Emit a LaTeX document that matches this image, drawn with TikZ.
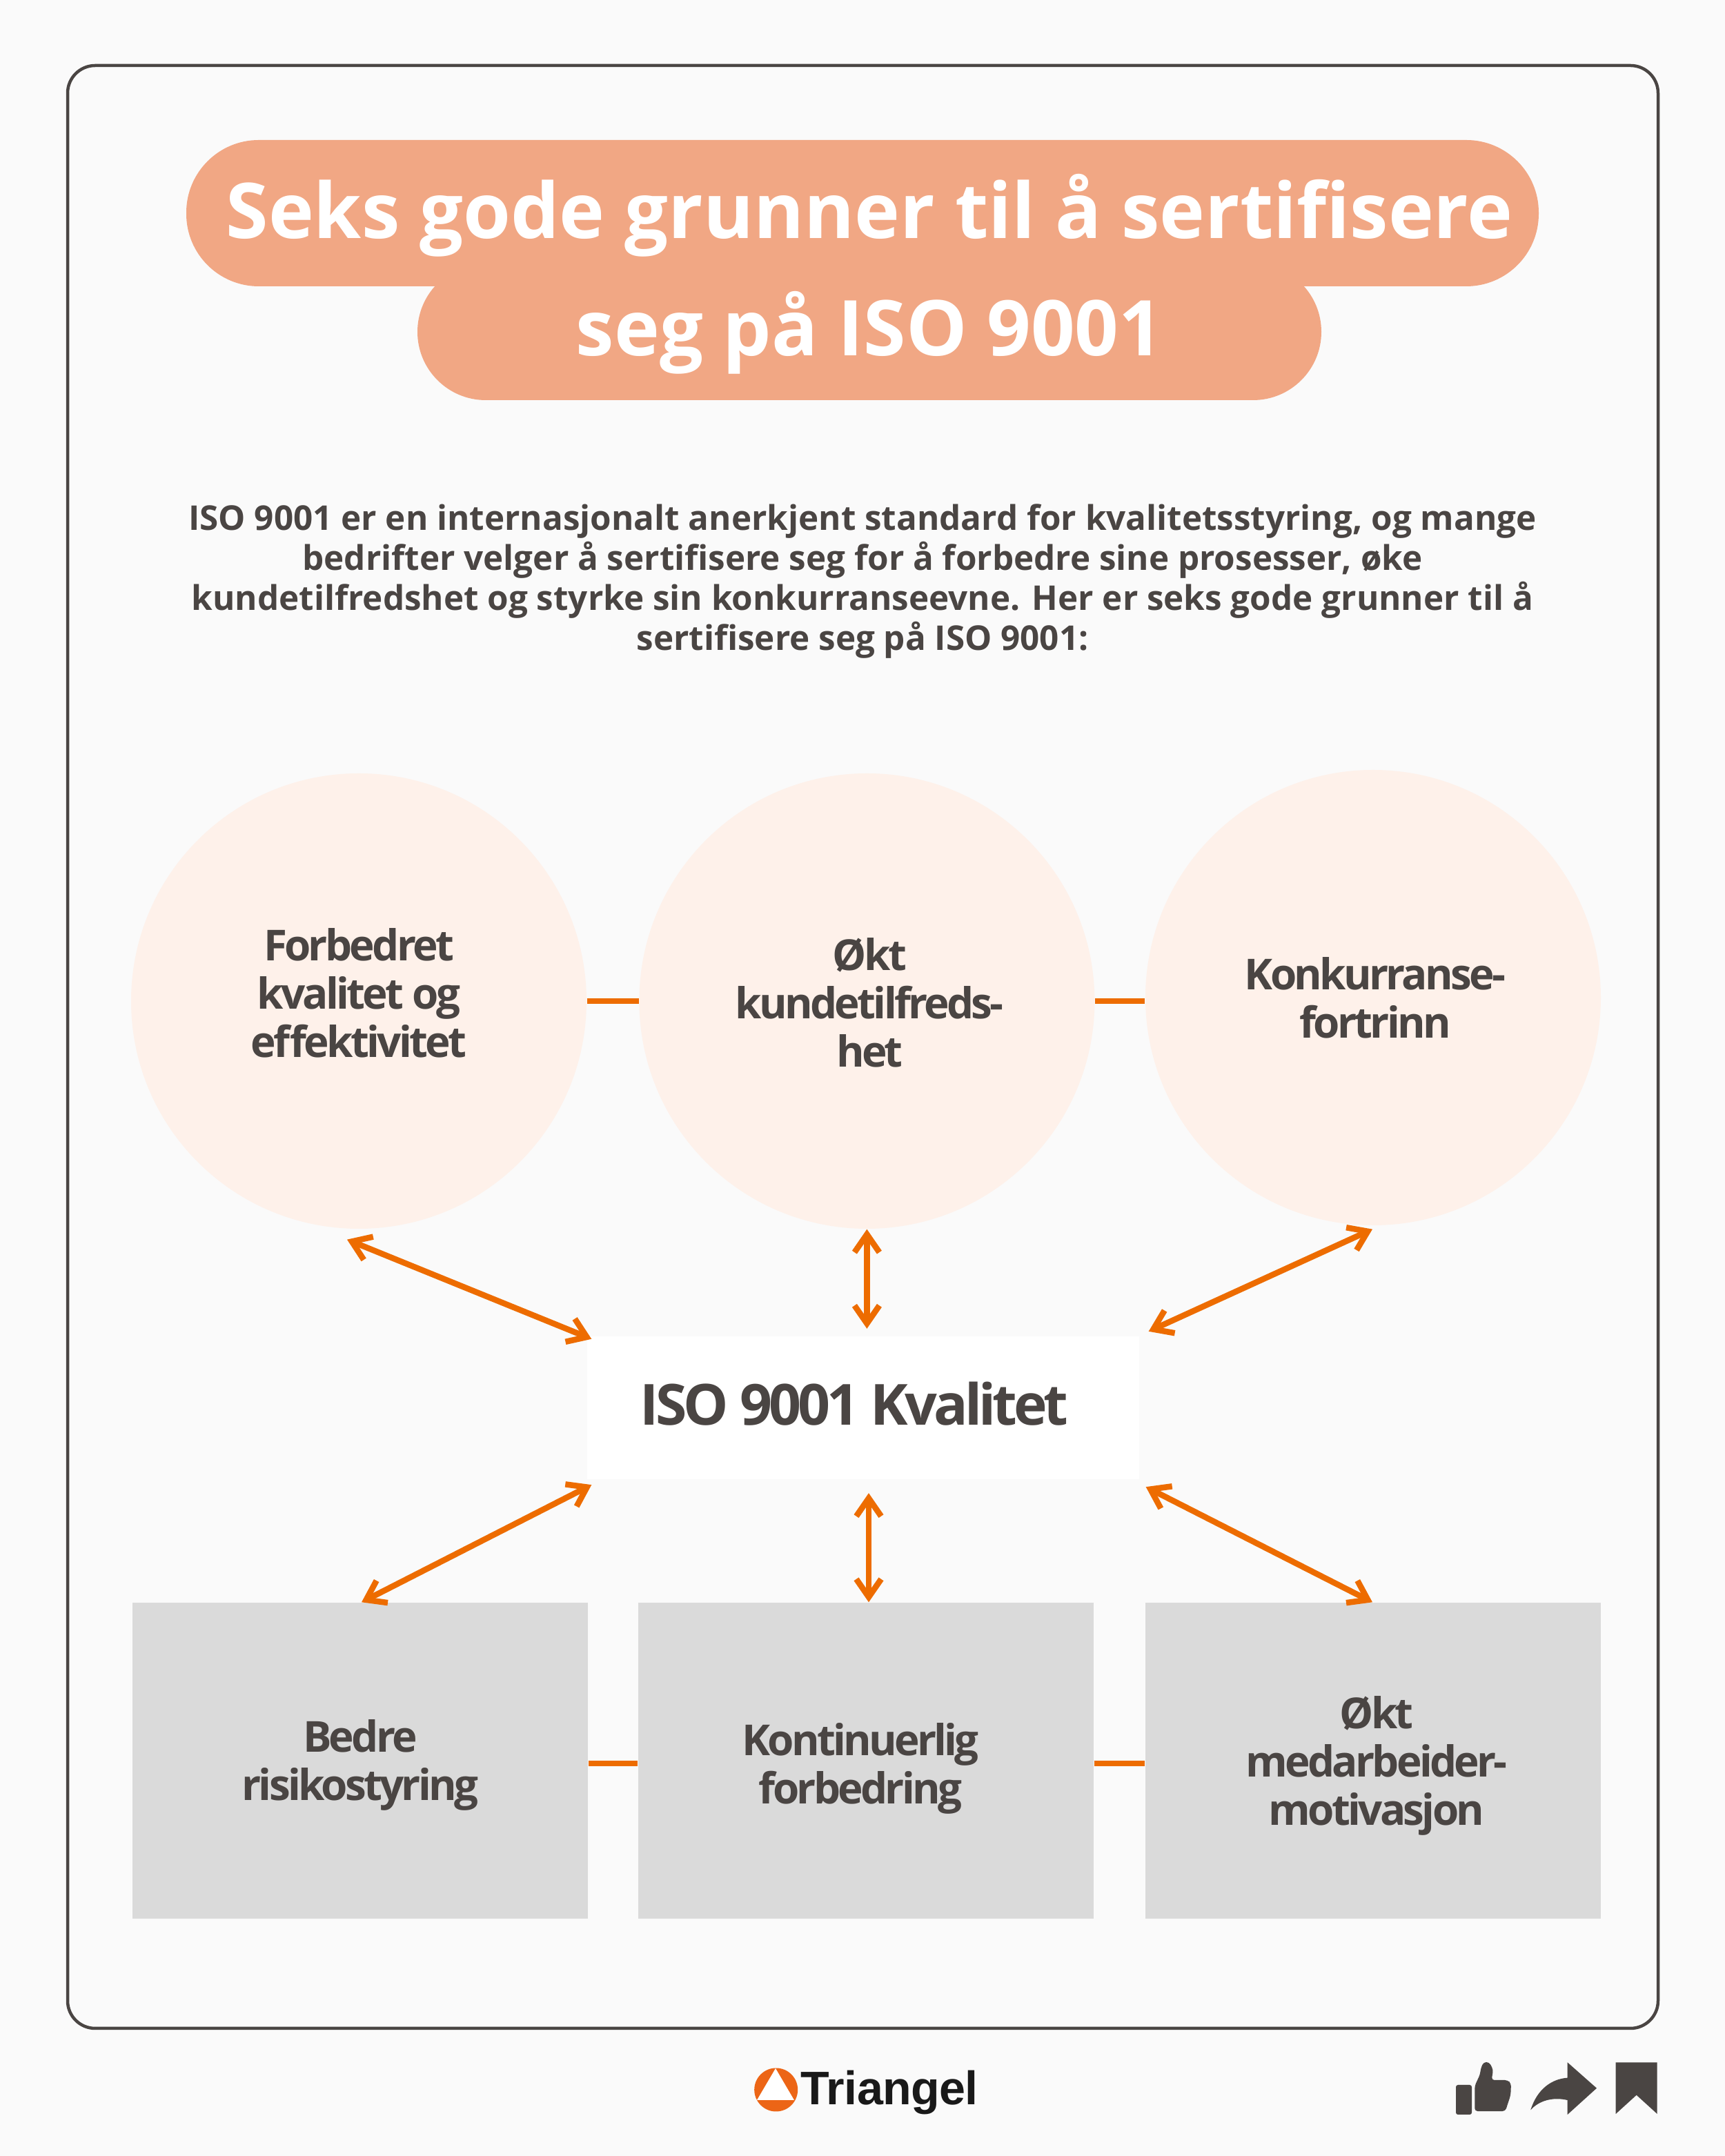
\documentclass[tikz,border=0pt]{standalone}
\usepackage{fontspec}
\setmainfont{Open Sans}
\newfontfamily\tightfont{Open Sans}[LetterSpace=-6]
\newfontfamily\logofont{Liberation Sans}[LetterSpace=-1]
\usepackage{xcolor}
\usetikzlibrary{arrows.meta, positioning}
\definecolor{pagebg}{HTML}{FAFAFA}
\definecolor{ink}{HTML}{4A4543}
\definecolor{peach}{HTML}{F1A784}
\definecolor{blush}{HTML}{FEF1EA}
\definecolor{slab}{HTML}{DADADA}
\definecolor{tangerine}{HTML}{ED6C00}
\definecolor{logoorange}{HTML}{EC6516}

\begin{document}
\begin{tikzpicture}[
        pill/.style={fill=peach, text=white, font=\fontsize{31.7}{36}\selectfont\bfseries, inner sep=0pt, text depth=0.3cm},
        circ/.style={circle, fill=blush, minimum size=6.6cm, inner sep=0pt},
        slabbox/.style={rectangle, fill=slab, minimum width=6.6cm, minimum height=4.58cm, inner sep=0pt},
        txt/.style={font=\fontsize{17.6}{19.9}\selectfont\tightfont\bfseries, text=ink, align=center},
        link/.style={draw=tangerine, line width=0.08cm},
        biarr/.style={{Straight Barb[length=2.6mm,width=3.6mm]}-{Straight Barb[length=2.6mm,width=3.6mm]}, draw=tangerine, line width=0.085cm},
        icon/.style={fill=ink}
      ]
      \fill[pagebg] (0,0) rectangle (25,31.25);
      \useasboundingbox (0,0) rectangle (25,31.25);
      \draw[ink, line width=0.045cm, rounded corners=0.4cm] (0.98,1.85) rectangle (24.03,30.3);

      \node[pill, rounded corners=0.99cm, minimum width=13.1cm, minimum height=1.98cm, text height=1cm] (titleb) at (12.6,26.44) {seg på ISO 9001};
      \node[pill, rounded corners=1.05cm, minimum width=19.6cm, minimum height=2.12cm, text height=1.04cm] (titlea) at (12.5,28.16) {\hspace*{0.2cm}Seks gode grunner til å sertifisere};

      \node[font=\fontsize{14.05}{16.5}\selectfont\bfseries, text=ink, align=center] (intro) at (12.5,22.82)
        {ISO 9001 er en internasjonalt anerkjent standard for kvalitetsstyring, og mange\\
         bedrifter velger å sertifisere seg for å forbedre sine prosesser, øke\\
         kundetilfredshet og styrke sin konkurranseevne. Her er seks gode grunner til å\\
         sertifisere seg på ISO 9001:};

      \node[circ, label={[txt,yshift=0.12cm]center:{Forbedret\\kvalitet og\\effektivitet}}] (c1) at (5.2,16.74) {};
      \node[circ, right=0.75cm of c1, label={[txt,xshift=0.04cm,yshift=-0.02cm]center:{Økt\\kundetilfreds-\\het}}] (c2) {};
      \node[circ, label={[txt,xshift=0.03cm]center:{Konkurranse-\\fortrinn}}] (c3) at (19.9,16.79) {};
      \draw[link] (c1) -- (c2);
      \draw[link] (c2) -- (c2 -| c3.west);

      \node[fill=white, minimum width=8cm, minimum height=2.07cm, label={[font=\fontsize{23.4}{27}\selectfont\tightfont\bfseries, text=ink, xshift=-0.13cm, yshift=0.06cm]center:ISO 9001 Kvalitet}] (iso) at (12.51,10.84) {};

      \node[slabbox] (r1) at (5.22,5.73) {};
      \node[slabbox] (r2) at (12.55,5.73) {};
      \node[slabbox] (r3) at (19.9,5.73) {};
      \node[txt] (r1t) at (5.22,5.67) {Bedre\\risikostyring};
      \node[txt] (r2t) at (12.47,5.62) {Kontinuerlig\\forbedring};
      \node[txt] (r3t) at (19.95,5.66) {Økt\\medarbeider-\\motivasjon};
      \draw[link] ([yshift=-0.04cm]r1.east) -- ([yshift=-0.04cm]r2.west);
      \draw[link] ([yshift=-0.04cm]r2.east) -- ([yshift=-0.04cm]r3.west);

      \draw[biarr] ([shift={(-0.17,-0.15)}]c1.south) -- ([shift={(0.07,-0.04)}]iso.north west);
      \draw[biarr] (c2.south) -- ([yshift=0.11cm]iso.north -| c2);
      \draw[biarr] ([shift={(-0.01,-0.05)}]c3.south) -- ([shift={(0.13,0.07)}]iso.north east);
      \draw[biarr] ([shift={(0.07,-0.07)}]iso.south west) -- ([xshift=0.02cm]r1.north);
      \draw[biarr] ([shift={(0.08,-0.19)}]iso.south) -- ([xshift=0.04cm]r2.north);
      \draw[biarr] ([shift={(0.09,-0.1)}]iso.south east) -- ([shift={(-0.01,0)}]r3.north);

      % logo
      \fill[logoorange] (11.247,0.96) circle (0.315cm);
      \fill[white] (11.24,1.27) -- (10.97,0.81) -- (11.51,0.81) -- cycle;
      \node[font=\fontsize{19.4}{23}\selectfont\logofont\bfseries, text=black!90, anchor=base west, inner sep=0pt] (logo) at (11.6,0.74) {Triangel};

      % icons
      \fill[icon, rounded corners=0.03cm] (21.10,0.60) rectangle (21.33,1.03);
      \fill[icon, rounded corners=0.04cm] (21.373,0.65) -- (21.817,0.65) -- (21.893,0.883) -- (21.90,1.05) -- (21.85,1.10) -- (21.617,1.10) -- (21.64,1.25) -- (21.583,1.36) -- (21.50,1.36) -- (21.46,1.267) -- (21.45,1.183) -- (21.373,1.017) -- cycle;
      \fill[icon] (22.183,0.667) .. controls (22.28,0.98) and (22.5,1.12) .. (22.717,1.133) -- (22.717,1.357) -- (23.14,0.983) -- (22.717,0.60) -- (22.717,0.81) .. controls (22.5,0.86) and (22.3,0.8) .. (22.183,0.667) -- cycle;
      \fill[icon] (23.417,1.357) -- (24.017,1.357) -- (24.017,0.61) -- (23.717,0.883) -- (23.417,0.61) -- cycle;
    \end{tikzpicture}
\end{document}
